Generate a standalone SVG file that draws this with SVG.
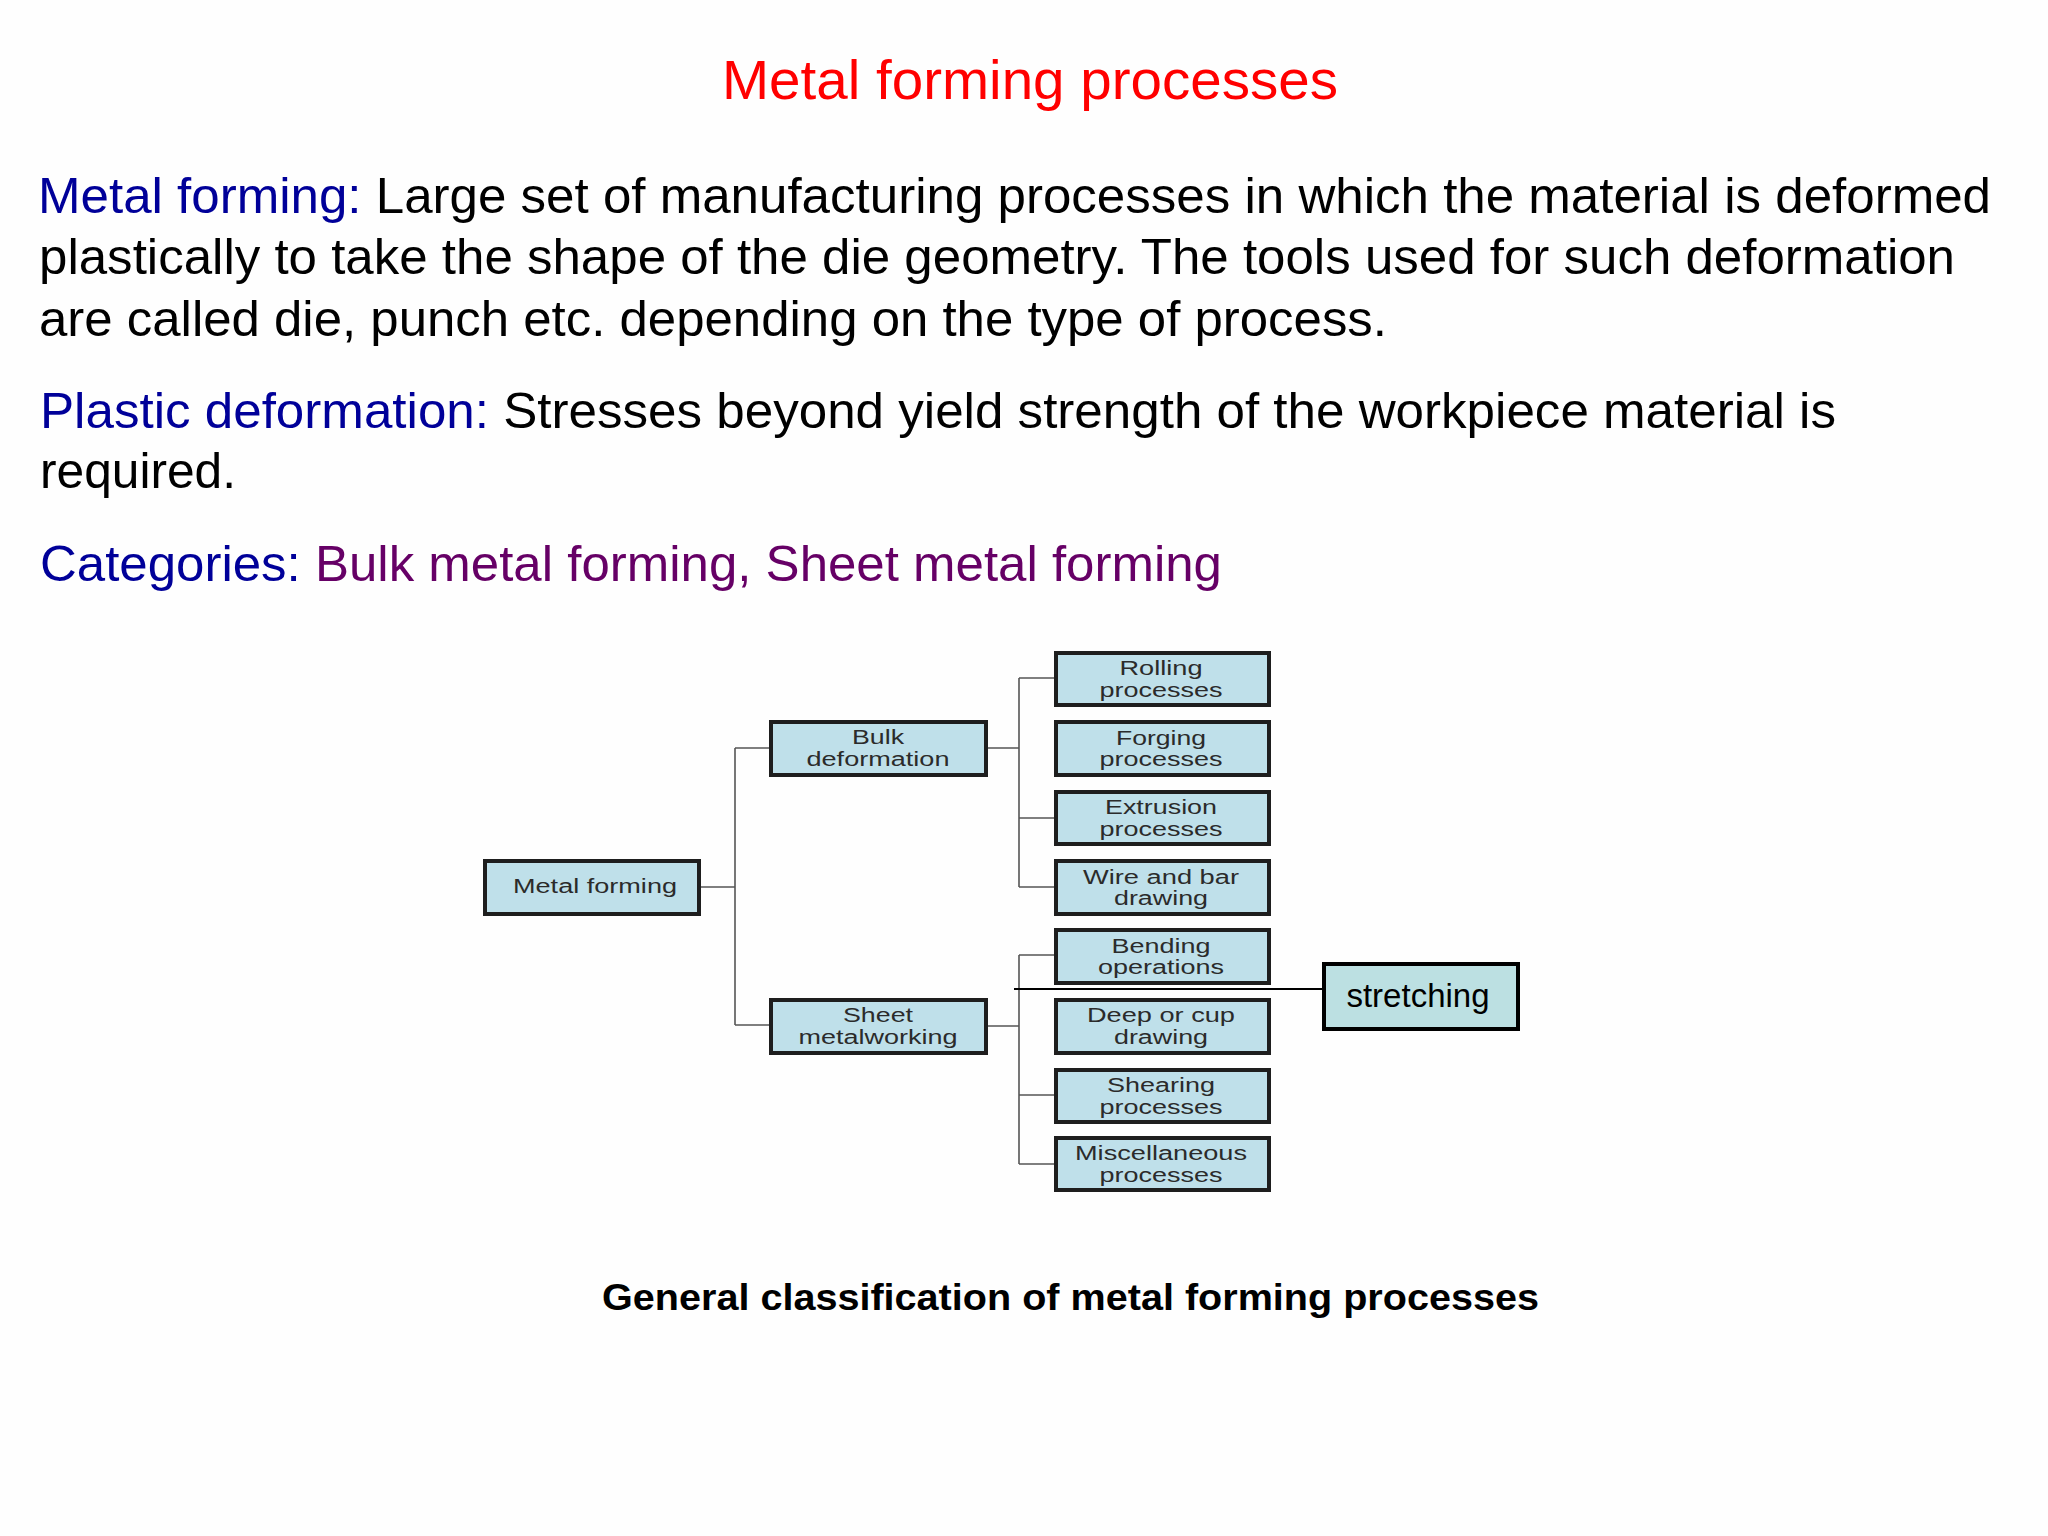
<svg xmlns="http://www.w3.org/2000/svg" width="2048" height="1536" viewBox="0 0 2048 1536">
<style>
.bg{fill:#fefefe}
.box{fill:#bfe0ea;stroke:#1e1e1e;stroke-width:4}
.box2{fill:#bce0e2;stroke:#000;stroke-width:4}
.bt{font-family:"Liberation Sans",Arial,sans-serif;font-size:20px;fill:#2b2b2b;text-anchor:middle}
.conn{fill:none;stroke:#555;stroke-width:1.6}
.body{font-family:"Liberation Sans",Arial,sans-serif;font-size:50px;fill:#000}
.lab{fill:#000099}
.cat{fill:#660066}
</style>
<rect class="bg" x="0" y="0" width="2048" height="1536"/>
<text x="722" y="99" font-family="'Liberation Sans',Arial,sans-serif" font-size="56" fill="#ff0000" textLength="616" lengthAdjust="spacingAndGlyphs">Metal forming processes</text>
<text class="body" x="38" y="213" textLength="1953" lengthAdjust="spacingAndGlyphs"><tspan class="lab">Metal forming:</tspan> Large set of manufacturing processes in which the material is deformed</text>
<text class="body" x="39" y="274" textLength="1916" lengthAdjust="spacingAndGlyphs">plastically to take the shape of the die geometry. The tools used for such deformation</text>
<text class="body" x="39" y="336" textLength="1348" lengthAdjust="spacingAndGlyphs">are called die, punch etc. depending on the type of process.</text>
<text class="body" x="40" y="428" textLength="1796" lengthAdjust="spacingAndGlyphs"><tspan class="lab">Plastic deformation:</tspan> Stresses beyond yield strength of the workpiece material is</text>
<text class="body" x="40" y="488" textLength="196" lengthAdjust="spacingAndGlyphs">required.</text>
<text class="body" x="40" y="581" textLength="1182" lengthAdjust="spacingAndGlyphs"><tspan class="lab">Categories:</tspan> <tspan class="cat">Bulk metal forming, Sheet metal forming</tspan></text>
<g id="connectors">
<path class="conn" d="M701 887H735M735 748V1025M735 748H769M735 1025H769"/>
<path class="conn" d="M988 748H1019M1019 678V887M1019 678H1054M1019 818H1054M1019 887H1054"/>
<path class="conn" d="M988 1026H1019M1019 955V1164M1019 955H1054M1019 1095H1054M1019 1164H1054"/>
<path fill="none" stroke="#000" stroke-width="2" d="M1014 989H1322"/>
</g>
<g id="metal-forming"><rect class="box" x="485" y="861" width="214" height="53"/><text class="bt" x="595" y="893" font-size="22" textLength="164" lengthAdjust="spacingAndGlyphs">Metal forming</text></g>
<g id="bulk"><rect class="box" x="771" y="722" width="215" height="53"/><text class="bt" x="878" y="744" textLength="52" lengthAdjust="spacingAndGlyphs">Bulk</text><text class="bt" x="878" y="766" textLength="143" lengthAdjust="spacingAndGlyphs">deformation</text></g>
<g id="sheet"><rect class="box" x="771" y="1000" width="215" height="53"/><text class="bt" x="878" y="1022" textLength="70" lengthAdjust="spacingAndGlyphs">Sheet</text><text class="bt" x="878" y="1044" textLength="159" lengthAdjust="spacingAndGlyphs">metalworking</text></g>
<g id="rolling"><rect class="box" x="1056" y="653" width="213" height="52"/><text class="bt" x="1161" y="675" textLength="83" lengthAdjust="spacingAndGlyphs">Rolling</text><text class="bt" x="1161" y="697" textLength="123" lengthAdjust="spacingAndGlyphs">processes</text></g>
<g id="forging"><rect class="box" x="1056" y="722" width="213" height="53"/><text class="bt" x="1161" y="745" textLength="90" lengthAdjust="spacingAndGlyphs">Forging</text><text class="bt" x="1161" y="766" textLength="123" lengthAdjust="spacingAndGlyphs">processes</text></g>
<g id="extrusion"><rect class="box" x="1056" y="792" width="213" height="52"/><text class="bt" x="1161" y="814" textLength="112" lengthAdjust="spacingAndGlyphs">Extrusion</text><text class="bt" x="1161" y="836" textLength="123" lengthAdjust="spacingAndGlyphs">processes</text></g>
<g id="wire"><rect class="box" x="1056" y="861" width="213" height="53"/><text class="bt" x="1161" y="884" textLength="156" lengthAdjust="spacingAndGlyphs">Wire and bar</text><text class="bt" x="1161" y="905" textLength="94" lengthAdjust="spacingAndGlyphs">drawing</text></g>
<g id="bending"><rect class="box" x="1056" y="930" width="213" height="53"/><text class="bt" x="1161" y="953" textLength="99" lengthAdjust="spacingAndGlyphs">Bending</text><text class="bt" x="1161" y="974" textLength="126" lengthAdjust="spacingAndGlyphs">operations</text></g>
<g id="deep"><rect class="box" x="1056" y="1000" width="213" height="53"/><text class="bt" x="1161" y="1022" textLength="148" lengthAdjust="spacingAndGlyphs">Deep or cup</text><text class="bt" x="1161" y="1044" textLength="94" lengthAdjust="spacingAndGlyphs">drawing</text></g>
<g id="shearing"><rect class="box" x="1056" y="1070" width="213" height="52"/><text class="bt" x="1161" y="1092" textLength="108" lengthAdjust="spacingAndGlyphs">Shearing</text><text class="bt" x="1161" y="1114" textLength="123" lengthAdjust="spacingAndGlyphs">processes</text></g>
<g id="misc"><rect class="box" x="1056" y="1138" width="213" height="52"/><text class="bt" x="1161" y="1160" textLength="172" lengthAdjust="spacingAndGlyphs">Miscellaneous</text><text class="bt" x="1161" y="1182" textLength="123" lengthAdjust="spacingAndGlyphs">processes</text></g>
<g id="stretching"><rect class="box2" x="1324" y="964" width="194" height="65"/><text x="1418" y="1007" font-family="'Liberation Sans',Arial,sans-serif" font-size="33" fill="#000" text-anchor="middle">stretching</text></g>
<text x="602" y="1310" font-family="'Liberation Sans',Arial,sans-serif" font-size="37" font-weight="bold" fill="#000" textLength="937" lengthAdjust="spacingAndGlyphs">General classification of metal forming processes</text>
</svg>
